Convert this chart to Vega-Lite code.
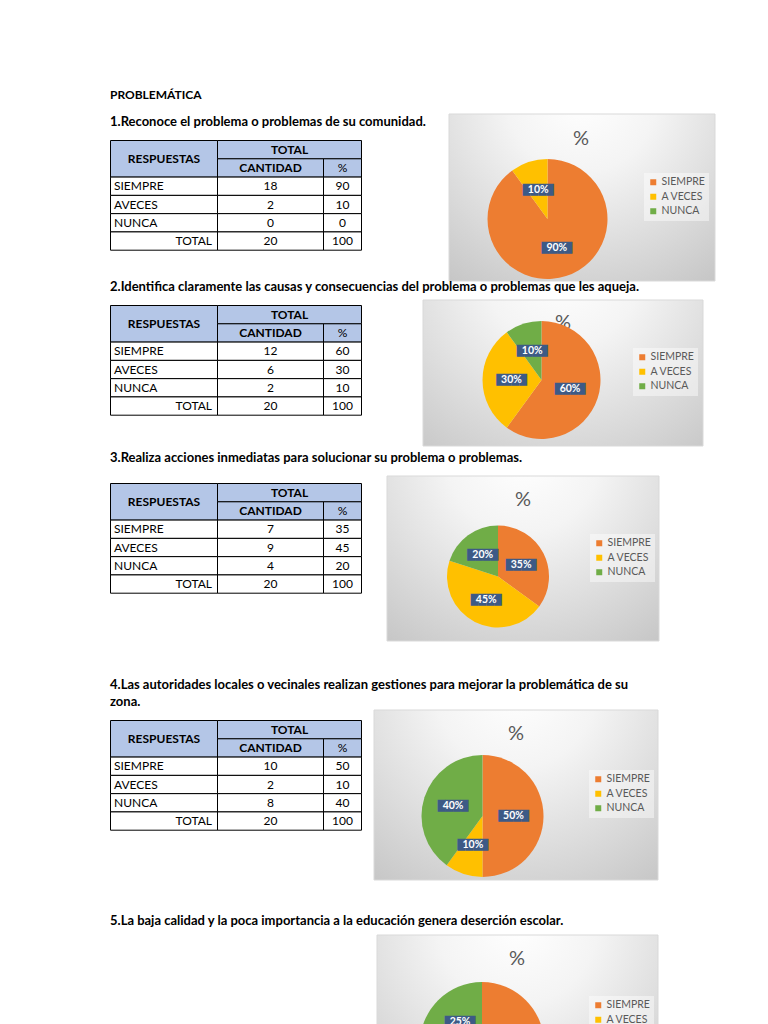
{
"$schema": "https://vega.github.io/schema/vega-lite/v6.json",
"width": 768, "height": 1024, "padding": 0, "autosize": "none", "background": "#ffffff",
"config": {
 "view": {"stroke": null},
 "axis": {"disable": true},
 "legend": {"orient": "none", "title": null, "symbolType": "square", "symbolSize": 36, "symbolStrokeWidth": 0, "labelFont": "Lato", "labelFontSize": 10.5, "labelColor": "#595959", "fillColor": "rgba(255,255,255,0.45)", "padding": 4, "rowPadding": 3.5, "labelOffset": 3},
 "style": {
  "q": {"font": "Lato", "fontSize": 13, "fontWeight": "bold", "align": "left", "baseline": "middle"},
  "hd": {"font": "Lato", "fontSize": 12, "fontWeight": "bold", "align": "center", "baseline": "middle"},
  "cell": {"font": "Lato", "fontSize": 12, "align": "center", "baseline": "middle"},
  "pct": {"font": "Lato", "fontSize": 20, "align": "center", "baseline": "middle"},
  "lblbg": {"font": "DejaVu Sans", "fontSize": 10, "align": "center", "baseline": "middle"},
  "lbl": {"font": "Lato", "fontSize": 10.5, "fontWeight": "bold", "align": "center", "baseline": "middle"}
 }
},
"datasets": {
 "q1": [{"resp": "SIEMPRE", "cantidad": 18, "pct": 90}, {"resp": "AVECES", "cantidad": 2, "pct": 10}, {"resp": "NUNCA", "cantidad": 0, "pct": 0}, {"resp": "TOTAL", "cantidad": 20, "pct": 100}],
 "q2": [{"resp": "SIEMPRE", "cantidad": 12, "pct": 60}, {"resp": "AVECES", "cantidad": 6, "pct": 30}, {"resp": "NUNCA", "cantidad": 2, "pct": 10}, {"resp": "TOTAL", "cantidad": 20, "pct": 100}],
 "q3": [{"resp": "SIEMPRE", "cantidad": 7, "pct": 35}, {"resp": "AVECES", "cantidad": 9, "pct": 45}, {"resp": "NUNCA", "cantidad": 4, "pct": 20}, {"resp": "TOTAL", "cantidad": 20, "pct": 100}],
 "q4": [{"resp": "SIEMPRE", "cantidad": 10, "pct": 50}, {"resp": "AVECES", "cantidad": 2, "pct": 10}, {"resp": "NUNCA", "cantidad": 8, "pct": 40}, {"resp": "TOTAL", "cantidad": 20, "pct": 100}],
 "q5": [{"resp": "SIEMPRE", "cantidad": 10, "pct": 50}, {"resp": "AVECES", "cantidad": 5, "pct": 25}, {"resp": "NUNCA", "cantidad": 5, "pct": 25}, {"resp": "TOTAL", "cantidad": 20, "pct": 100}]
},
"layer": [
 {
  "data": {"values": [{}]},
  "resolve": {"scale": {"color": "independent"}, "legend": {"color": "independent"}},
  "layer": [
   {"mark": {"type": "rect", "stroke": "#D9D9D9", "strokeWidth": 1, "fill": {"gradient": "radial", "x1": 0.5, "y1": 0.12, "r1": 0, "x2": 0.5, "y2": 0.12, "r2": 0.95, "stops": [{"offset": 0, "color": "#FFFFFF"}, {"offset": 0.3, "color": "#F4F4F4"}, {"offset": 1, "color": "#BEBEBE"}]}},
    "encoding": {"x": {"datum": 449, "scale": {"domain": [0, 768], "nice": false, "zero": false}}, "x2": {"datum": 715}, "y": {"datum": 114, "scale": {"domain": [0, 1024], "nice": false, "zero": false, "reverse": true}}, "y2": {"datum": 281}}},
   {"mark": {"type": "rect", "stroke": "#D9D9D9", "strokeWidth": 1, "fill": {"gradient": "radial", "x1": 0.5, "y1": 0.12, "r1": 0, "x2": 0.5, "y2": 0.12, "r2": 0.95, "stops": [{"offset": 0, "color": "#FFFFFF"}, {"offset": 0.3, "color": "#F4F4F4"}, {"offset": 1, "color": "#BEBEBE"}]}},
    "encoding": {"x": {"datum": 423}, "x2": {"datum": 703}, "y": {"datum": 300}, "y2": {"datum": 446}}},
   {"mark": {"type": "rect", "stroke": "#D9D9D9", "strokeWidth": 1, "fill": {"gradient": "radial", "x1": 0.5, "y1": 0.12, "r1": 0, "x2": 0.5, "y2": 0.12, "r2": 0.95, "stops": [{"offset": 0, "color": "#FFFFFF"}, {"offset": 0.3, "color": "#F4F4F4"}, {"offset": 1, "color": "#BEBEBE"}]}},
    "encoding": {"x": {"datum": 387}, "x2": {"datum": 659}, "y": {"datum": 476}, "y2": {"datum": 641}}},
   {"mark": {"type": "rect", "stroke": "#D9D9D9", "strokeWidth": 1, "fill": {"gradient": "radial", "x1": 0.5, "y1": 0.12, "r1": 0, "x2": 0.5, "y2": 0.12, "r2": 0.95, "stops": [{"offset": 0, "color": "#FFFFFF"}, {"offset": 0.3, "color": "#F4F4F4"}, {"offset": 1, "color": "#BEBEBE"}]}},
    "encoding": {"x": {"datum": 374}, "x2": {"datum": 658}, "y": {"datum": 710}, "y2": {"datum": 880}}},
   {"mark": {"type": "rect", "stroke": "#D9D9D9", "strokeWidth": 1, "fill": {"gradient": "radial", "x1": 0.5, "y1": 0.15, "r1": 0, "x2": 0.5, "y2": 0.15, "r2": 0.95, "stops": [{"offset": 0, "color": "#FFFFFF"}, {"offset": 0.3, "color": "#F4F4F4"}, {"offset": 1, "color": "#BEBEBE"}]}},
    "encoding": {"x": {"datum": 377}, "x2": {"datum": 658}, "y": {"datum": 935}, "y2": {"datum": 1110}}},

   {"mark": {"type": "text", "style": "q", "fontSize": 12, "text": "PROBLEMÁTICA"}, "encoding": {"x": {"datum": 110}, "y": {"datum": 95}}},
   {"mark": {"type": "text", "style": "q", "text": "1.Reconoce el problema o problemas de su comunidad."}, "encoding": {"x": {"datum": 110}, "y": {"datum": 122}}},
   {"mark": {"type": "text", "style": "q", "text": "2.Identifica claramente las causas y consecuencias del problema o problemas que les aqueja."}, "encoding": {"x": {"datum": 110}, "y": {"datum": 287}}},
   {"mark": {"type": "text", "style": "q", "text": "3.Realiza acciones inmediatas para solucionar su problema o problemas."}, "encoding": {"x": {"datum": 110}, "y": {"datum": 458}}},
   {"mark": {"type": "text", "style": "q", "text": "4.Las autoridades locales o vecinales realizan gestiones para mejorar la problemática de su"}, "encoding": {"x": {"datum": 110}, "y": {"datum": 685}}},
   {"mark": {"type": "text", "style": "q", "text": "zona."}, "encoding": {"x": {"datum": 110}, "y": {"datum": 702}}},
   {"mark": {"type": "text", "style": "q", "text": "5.La baja calidad y la poca importancia a la educación genera deserción escolar."}, "encoding": {"x": {"datum": 110}, "y": {"datum": 921}}},

   {"mark": {"type": "rect", "fill": "#B4C6E7", "stroke": "#000000", "strokeWidth": 1}, "encoding": {"x": {"datum": 110.5}, "x2": {"datum": 217.5}, "y": {"datum": 140.5}, "y2": {"datum": 177.1}}},
   {"mark": {"type": "rect", "fill": "#B4C6E7", "stroke": "#000000", "strokeWidth": 1}, "encoding": {"x": {"datum": 217.5}, "x2": {"datum": 361.5}, "y": {"datum": 140.5}, "y2": {"datum": 158.8}}},
   {"mark": {"type": "rect", "fill": "#B4C6E7", "stroke": "#000000", "strokeWidth": 1}, "encoding": {"x": {"datum": 217.5}, "x2": {"datum": 323.5}, "y": {"datum": 158.8}, "y2": {"datum": 177.1}}},
   {"mark": {"type": "rect", "fill": "#B4C6E7", "stroke": "#000000", "strokeWidth": 1}, "encoding": {"x": {"datum": 323.5}, "x2": {"datum": 361.5}, "y": {"datum": 158.8}, "y2": {"datum": 177.1}}},
   {"mark": {"type": "text", "style": "hd", "text": "RESPUESTAS"}, "encoding": {"x": {"datum": 164}, "y": {"datum": 158.8}}},
   {"mark": {"type": "text", "style": "hd", "text": "TOTAL"}, "encoding": {"x": {"datum": 289.5}, "y": {"datum": 149.65}}},
   {"mark": {"type": "text", "style": "hd", "text": "CANTIDAD"}, "encoding": {"x": {"datum": 270.5}, "y": {"datum": 167.95}}},
   {"mark": {"type": "text", "style": "hd", "fontWeight": "normal", "text": "%"}, "encoding": {"x": {"datum": 342.5}, "y": {"datum": 167.95}}},

   {"mark": {"type": "rect", "fill": "#B4C6E7", "stroke": "#000000", "strokeWidth": 1}, "encoding": {"x": {"datum": 110.5}, "x2": {"datum": 217.5}, "y": {"datum": 305.5}, "y2": {"datum": 342.1}}},
   {"mark": {"type": "rect", "fill": "#B4C6E7", "stroke": "#000000", "strokeWidth": 1}, "encoding": {"x": {"datum": 217.5}, "x2": {"datum": 361.5}, "y": {"datum": 305.5}, "y2": {"datum": 323.8}}},
   {"mark": {"type": "rect", "fill": "#B4C6E7", "stroke": "#000000", "strokeWidth": 1}, "encoding": {"x": {"datum": 217.5}, "x2": {"datum": 323.5}, "y": {"datum": 323.8}, "y2": {"datum": 342.1}}},
   {"mark": {"type": "rect", "fill": "#B4C6E7", "stroke": "#000000", "strokeWidth": 1}, "encoding": {"x": {"datum": 323.5}, "x2": {"datum": 361.5}, "y": {"datum": 323.8}, "y2": {"datum": 342.1}}},
   {"mark": {"type": "text", "style": "hd", "text": "RESPUESTAS"}, "encoding": {"x": {"datum": 164}, "y": {"datum": 323.8}}},
   {"mark": {"type": "text", "style": "hd", "text": "TOTAL"}, "encoding": {"x": {"datum": 289.5}, "y": {"datum": 314.65}}},
   {"mark": {"type": "text", "style": "hd", "text": "CANTIDAD"}, "encoding": {"x": {"datum": 270.5}, "y": {"datum": 332.95}}},
   {"mark": {"type": "text", "style": "hd", "fontWeight": "normal", "text": "%"}, "encoding": {"x": {"datum": 342.5}, "y": {"datum": 332.95}}},

   {"mark": {"type": "rect", "fill": "#B4C6E7", "stroke": "#000000", "strokeWidth": 1}, "encoding": {"x": {"datum": 110.5}, "x2": {"datum": 217.5}, "y": {"datum": 483.5}, "y2": {"datum": 520.1}}},
   {"mark": {"type": "rect", "fill": "#B4C6E7", "stroke": "#000000", "strokeWidth": 1}, "encoding": {"x": {"datum": 217.5}, "x2": {"datum": 361.5}, "y": {"datum": 483.5}, "y2": {"datum": 501.8}}},
   {"mark": {"type": "rect", "fill": "#B4C6E7", "stroke": "#000000", "strokeWidth": 1}, "encoding": {"x": {"datum": 217.5}, "x2": {"datum": 323.5}, "y": {"datum": 501.8}, "y2": {"datum": 520.1}}},
   {"mark": {"type": "rect", "fill": "#B4C6E7", "stroke": "#000000", "strokeWidth": 1}, "encoding": {"x": {"datum": 323.5}, "x2": {"datum": 361.5}, "y": {"datum": 501.8}, "y2": {"datum": 520.1}}},
   {"mark": {"type": "text", "style": "hd", "text": "RESPUESTAS"}, "encoding": {"x": {"datum": 164}, "y": {"datum": 501.8}}},
   {"mark": {"type": "text", "style": "hd", "text": "TOTAL"}, "encoding": {"x": {"datum": 289.5}, "y": {"datum": 492.65}}},
   {"mark": {"type": "text", "style": "hd", "text": "CANTIDAD"}, "encoding": {"x": {"datum": 270.5}, "y": {"datum": 510.95}}},
   {"mark": {"type": "text", "style": "hd", "fontWeight": "normal", "text": "%"}, "encoding": {"x": {"datum": 342.5}, "y": {"datum": 510.95}}},

   {"mark": {"type": "rect", "fill": "#B4C6E7", "stroke": "#000000", "strokeWidth": 1}, "encoding": {"x": {"datum": 110.5}, "x2": {"datum": 217.5}, "y": {"datum": 720.5}, "y2": {"datum": 757.1}}},
   {"mark": {"type": "rect", "fill": "#B4C6E7", "stroke": "#000000", "strokeWidth": 1}, "encoding": {"x": {"datum": 217.5}, "x2": {"datum": 361.5}, "y": {"datum": 720.5}, "y2": {"datum": 738.8}}},
   {"mark": {"type": "rect", "fill": "#B4C6E7", "stroke": "#000000", "strokeWidth": 1}, "encoding": {"x": {"datum": 217.5}, "x2": {"datum": 323.5}, "y": {"datum": 738.8}, "y2": {"datum": 757.1}}},
   {"mark": {"type": "rect", "fill": "#B4C6E7", "stroke": "#000000", "strokeWidth": 1}, "encoding": {"x": {"datum": 323.5}, "x2": {"datum": 361.5}, "y": {"datum": 738.8}, "y2": {"datum": 757.1}}},
   {"mark": {"type": "text", "style": "hd", "text": "RESPUESTAS"}, "encoding": {"x": {"datum": 164}, "y": {"datum": 738.8}}},
   {"mark": {"type": "text", "style": "hd", "text": "TOTAL"}, "encoding": {"x": {"datum": 289.5}, "y": {"datum": 729.65}}},
   {"mark": {"type": "text", "style": "hd", "text": "CANTIDAD"}, "encoding": {"x": {"datum": 270.5}, "y": {"datum": 747.95}}},
   {"mark": {"type": "text", "style": "hd", "fontWeight": "normal", "text": "%"}, "encoding": {"x": {"datum": 342.5}, "y": {"datum": 747.95}}},

   {"mark": {"type": "text", "style": "pct", "color": "#595959", "text": "%"}, "encoding": {"x": {"datum": 581}, "y": {"datum": 139}}},
   {"mark": {"type": "text", "style": "pct", "color": "#595959", "text": "%"}, "encoding": {"x": {"datum": 563}, "y": {"datum": 323}}},
   {"mark": {"type": "text", "style": "pct", "color": "#595959", "text": "%"}, "encoding": {"x": {"datum": 523}, "y": {"datum": 500}}},
   {"mark": {"type": "text", "style": "pct", "color": "#595959", "text": "%"}, "encoding": {"x": {"datum": 516}, "y": {"datum": 734}}},
   {"mark": {"type": "text", "style": "pct", "color": "#595959", "text": "%"}, "encoding": {"x": {"datum": 517}, "y": {"datum": 959}}},

   {"data": {"name": "q1"}, "transform": [{"filter": "datum.resp != 'TOTAL'"}, {"window": [{"op": "row_number", "as": "orden"}]}],
    "mark": {"type": "arc", "outerRadius": 60},
    "encoding": {"x": {"datum": 547.5}, "y": {"datum": 219}, "theta": {"field": "pct", "type": "quantitative", "stack": true}, "order": {"field": "orden", "type": "quantitative"},
     "color": {"field": "resp", "type": "nominal", "scale": {"domain": ["SIEMPRE", "AVECES", "NUNCA"], "range": ["#ED7D31", "#FFC000", "#70AD47"]}, "legend": {"orient": "none", "legendX": 644, "legendY": 173, "labelExpr": "datum.label == 'AVECES' ? 'A VECES' : datum.label"}}}},
   {"data": {"name": "q2"}, "transform": [{"filter": "datum.resp != 'TOTAL'"}, {"window": [{"op": "row_number", "as": "orden"}]}],
    "mark": {"type": "arc", "outerRadius": 59},
    "encoding": {"x": {"datum": 541.5}, "y": {"datum": 380}, "theta": {"field": "pct", "type": "quantitative", "stack": true}, "order": {"field": "orden", "type": "quantitative"},
     "color": {"field": "resp", "type": "nominal", "scale": {"domain": ["SIEMPRE", "AVECES", "NUNCA"], "range": ["#ED7D31", "#FFC000", "#70AD47"]}, "legend": {"orient": "none", "legendX": 633, "legendY": 348, "labelExpr": "datum.label == 'AVECES' ? 'A VECES' : datum.label"}}}},
   {"data": {"name": "q3"}, "transform": [{"filter": "datum.resp != 'TOTAL'"}, {"window": [{"op": "row_number", "as": "orden"}]}],
    "mark": {"type": "arc", "outerRadius": 51},
    "encoding": {"x": {"datum": 498}, "y": {"datum": 576.5}, "theta": {"field": "pct", "type": "quantitative", "stack": true}, "order": {"field": "orden", "type": "quantitative"},
     "color": {"field": "resp", "type": "nominal", "scale": {"domain": ["SIEMPRE", "AVECES", "NUNCA"], "range": ["#ED7D31", "#FFC000", "#70AD47"]}, "legend": {"orient": "none", "legendX": 590, "legendY": 534, "labelExpr": "datum.label == 'AVECES' ? 'A VECES' : datum.label"}}}},
   {"data": {"name": "q4"}, "transform": [{"filter": "datum.resp != 'TOTAL'"}, {"window": [{"op": "row_number", "as": "orden"}]}],
    "mark": {"type": "arc", "outerRadius": 61},
    "encoding": {"x": {"datum": 482.5}, "y": {"datum": 816}, "theta": {"field": "pct", "type": "quantitative", "stack": true}, "order": {"field": "orden", "type": "quantitative"},
     "color": {"field": "resp", "type": "nominal", "scale": {"domain": ["SIEMPRE", "AVECES", "NUNCA"], "range": ["#ED7D31", "#FFC000", "#70AD47"]}, "legend": {"orient": "none", "legendX": 589, "legendY": 770, "labelExpr": "datum.label == 'AVECES' ? 'A VECES' : datum.label"}}}},
   {"data": {"name": "q5"}, "transform": [{"filter": "datum.resp != 'TOTAL'"}, {"window": [{"op": "row_number", "as": "orden"}]}],
    "mark": {"type": "arc", "outerRadius": 62},
    "encoding": {"x": {"datum": 482}, "y": {"datum": 1044}, "theta": {"field": "pct", "type": "quantitative", "stack": true}, "order": {"field": "orden", "type": "quantitative"},
     "color": {"field": "resp", "type": "nominal", "scale": {"domain": ["SIEMPRE", "AVECES", "NUNCA"], "range": ["#ED7D31", "#FFC000", "#70AD47"]}, "legend": {"orient": "none", "legendX": 589, "legendY": 996, "labelExpr": "datum.label == 'AVECES' ? 'A VECES' : datum.label"}}}},

   {"data": {"name": "q1"}, "transform": [{"filter": "datum.resp != 'TOTAL'"}, {"window": [{"op": "row_number", "as": "orden"}]}, {"filter": "datum.pct > 0"}],
    "mark": {"type": "text", "style": "lblbg", "color": "#3D5A86", "radius": 30, "text": "████"},
    "encoding": {"x": {"datum": 547.5}, "y": {"datum": 219}, "theta": {"field": "pct", "type": "quantitative", "stack": true}, "order": {"field": "orden", "type": "quantitative"}}},
   {"data": {"name": "q1"}, "transform": [{"filter": "datum.resp != 'TOTAL'"}, {"window": [{"op": "row_number", "as": "orden"}]}, {"filter": "datum.pct > 0"}],
    "mark": {"type": "text", "style": "lbl", "color": "#FFFFFF", "radius": 30, "text": {"expr": "datum.pct + '%'"}},
    "encoding": {"x": {"datum": 547.5}, "y": {"datum": 219}, "theta": {"field": "pct", "type": "quantitative", "stack": true}, "order": {"field": "orden", "type": "quantitative"}}},
   {"data": {"name": "q2"}, "transform": [{"filter": "datum.resp != 'TOTAL'"}, {"window": [{"op": "row_number", "as": "orden"}]}, {"filter": "datum.pct > 0"}],
    "mark": {"type": "text", "style": "lblbg", "color": "#3D5A86", "radius": 30, "text": "████"},
    "encoding": {"x": {"datum": 541.5}, "y": {"datum": 380}, "theta": {"field": "pct", "type": "quantitative", "stack": true}, "order": {"field": "orden", "type": "quantitative"}}},
   {"data": {"name": "q2"}, "transform": [{"filter": "datum.resp != 'TOTAL'"}, {"window": [{"op": "row_number", "as": "orden"}]}, {"filter": "datum.pct > 0"}],
    "mark": {"type": "text", "style": "lbl", "color": "#FFFFFF", "radius": 30, "text": {"expr": "datum.pct + '%'"}},
    "encoding": {"x": {"datum": 541.5}, "y": {"datum": 380}, "theta": {"field": "pct", "type": "quantitative", "stack": true}, "order": {"field": "orden", "type": "quantitative"}}},
   {"data": {"name": "q3"}, "transform": [{"filter": "datum.resp != 'TOTAL'"}, {"window": [{"op": "row_number", "as": "orden"}]}, {"filter": "datum.pct > 0"}],
    "mark": {"type": "text", "style": "lblbg", "color": "#3D5A86", "radius": 26, "text": "████"},
    "encoding": {"x": {"datum": 498}, "y": {"datum": 576.5}, "theta": {"field": "pct", "type": "quantitative", "stack": true}, "order": {"field": "orden", "type": "quantitative"}}},
   {"data": {"name": "q3"}, "transform": [{"filter": "datum.resp != 'TOTAL'"}, {"window": [{"op": "row_number", "as": "orden"}]}, {"filter": "datum.pct > 0"}],
    "mark": {"type": "text", "style": "lbl", "color": "#FFFFFF", "radius": 26, "text": {"expr": "datum.pct + '%'"}},
    "encoding": {"x": {"datum": 498}, "y": {"datum": 576.5}, "theta": {"field": "pct", "type": "quantitative", "stack": true}, "order": {"field": "orden", "type": "quantitative"}}},
   {"data": {"name": "q4"}, "transform": [{"filter": "datum.resp != 'TOTAL'"}, {"window": [{"op": "row_number", "as": "orden"}]}, {"filter": "datum.pct > 0"}],
    "mark": {"type": "text", "style": "lblbg", "color": "#3D5A86", "radius": 31, "text": "████"},
    "encoding": {"x": {"datum": 482.5}, "y": {"datum": 816}, "theta": {"field": "pct", "type": "quantitative", "stack": true}, "order": {"field": "orden", "type": "quantitative"}}},
   {"data": {"name": "q4"}, "transform": [{"filter": "datum.resp != 'TOTAL'"}, {"window": [{"op": "row_number", "as": "orden"}]}, {"filter": "datum.pct > 0"}],
    "mark": {"type": "text", "style": "lbl", "color": "#FFFFFF", "radius": 31, "text": {"expr": "datum.pct + '%'"}},
    "encoding": {"x": {"datum": 482.5}, "y": {"datum": 816}, "theta": {"field": "pct", "type": "quantitative", "stack": true}, "order": {"field": "orden", "type": "quantitative"}}},
   {"data": {"name": "q5"}, "transform": [{"filter": "datum.resp != 'TOTAL'"}, {"window": [{"op": "row_number", "as": "orden"}]}, {"filter": "datum.pct > 0"}],
    "mark": {"type": "text", "style": "lblbg", "color": "#3D5A86", "radius": 31, "text": "████"},
    "encoding": {"x": {"datum": 482}, "y": {"datum": 1044}, "theta": {"field": "pct", "type": "quantitative", "stack": true}, "order": {"field": "orden", "type": "quantitative"}}},
   {"data": {"name": "q5"}, "transform": [{"filter": "datum.resp != 'TOTAL'"}, {"window": [{"op": "row_number", "as": "orden"}]}, {"filter": "datum.pct > 0"}],
    "mark": {"type": "text", "style": "lbl", "color": "#FFFFFF", "radius": 31, "text": {"expr": "datum.pct + '%'"}},
    "encoding": {"x": {"datum": 482}, "y": {"datum": 1044}, "theta": {"field": "pct", "type": "quantitative", "stack": true}, "order": {"field": "orden", "type": "quantitative"}}}
  ]
 },

 {"data": {"name": "q1"}, "layer": [
  {"mark": {"type": "rect", "fill": "#ffffff", "stroke": "#000000", "strokeWidth": 1}, "encoding": {"x": {"datum": 110.5}, "x2": {"datum": 217.5}, "y": {"field": "resp", "type": "nominal", "scale": {"type": "band", "domain": ["SIEMPRE", "AVECES", "NUNCA", "TOTAL"], "range": [177.1, 250.2], "paddingInner": 0, "paddingOuter": 0}}}},
  {"mark": {"type": "rect", "fill": "#ffffff", "stroke": "#000000", "strokeWidth": 1}, "encoding": {"x": {"datum": 217.5}, "x2": {"datum": 323.5}, "y": {"field": "resp", "type": "nominal"}}},
  {"mark": {"type": "rect", "fill": "#ffffff", "stroke": "#000000", "strokeWidth": 1}, "encoding": {"x": {"datum": 323.5}, "x2": {"datum": 361.5}, "y": {"field": "resp", "type": "nominal"}}},
  {"transform": [{"filter": "datum.resp != 'TOTAL'"}], "mark": {"type": "text", "style": "cell", "align": "left"}, "encoding": {"x": {"datum": 114}, "y": {"field": "resp", "type": "nominal"}, "text": {"field": "resp", "type": "nominal"}}},
  {"transform": [{"filter": "datum.resp == 'TOTAL'"}], "mark": {"type": "text", "style": "cell", "align": "right"}, "encoding": {"x": {"datum": 212}, "y": {"field": "resp", "type": "nominal"}, "text": {"field": "resp", "type": "nominal"}}},
  {"mark": {"type": "text", "style": "cell"}, "encoding": {"x": {"datum": 270.5}, "y": {"field": "resp", "type": "nominal"}, "text": {"field": "cantidad", "type": "nominal"}}},
  {"mark": {"type": "text", "style": "cell"}, "encoding": {"x": {"datum": 342.5}, "y": {"field": "resp", "type": "nominal"}, "text": {"field": "pct", "type": "nominal"}}}
 ]},
 {"data": {"name": "q2"}, "layer": [
  {"mark": {"type": "rect", "fill": "#ffffff", "stroke": "#000000", "strokeWidth": 1}, "encoding": {"x": {"datum": 110.5}, "x2": {"datum": 217.5}, "y": {"field": "resp", "type": "nominal", "scale": {"type": "band", "domain": ["SIEMPRE", "AVECES", "NUNCA", "TOTAL"], "range": [342.1, 415.2], "paddingInner": 0, "paddingOuter": 0}}}},
  {"mark": {"type": "rect", "fill": "#ffffff", "stroke": "#000000", "strokeWidth": 1}, "encoding": {"x": {"datum": 217.5}, "x2": {"datum": 323.5}, "y": {"field": "resp", "type": "nominal"}}},
  {"mark": {"type": "rect", "fill": "#ffffff", "stroke": "#000000", "strokeWidth": 1}, "encoding": {"x": {"datum": 323.5}, "x2": {"datum": 361.5}, "y": {"field": "resp", "type": "nominal"}}},
  {"transform": [{"filter": "datum.resp != 'TOTAL'"}], "mark": {"type": "text", "style": "cell", "align": "left"}, "encoding": {"x": {"datum": 114}, "y": {"field": "resp", "type": "nominal"}, "text": {"field": "resp", "type": "nominal"}}},
  {"transform": [{"filter": "datum.resp == 'TOTAL'"}], "mark": {"type": "text", "style": "cell", "align": "right"}, "encoding": {"x": {"datum": 212}, "y": {"field": "resp", "type": "nominal"}, "text": {"field": "resp", "type": "nominal"}}},
  {"mark": {"type": "text", "style": "cell"}, "encoding": {"x": {"datum": 270.5}, "y": {"field": "resp", "type": "nominal"}, "text": {"field": "cantidad", "type": "nominal"}}},
  {"mark": {"type": "text", "style": "cell"}, "encoding": {"x": {"datum": 342.5}, "y": {"field": "resp", "type": "nominal"}, "text": {"field": "pct", "type": "nominal"}}}
 ]},
 {"data": {"name": "q3"}, "layer": [
  {"mark": {"type": "rect", "fill": "#ffffff", "stroke": "#000000", "strokeWidth": 1}, "encoding": {"x": {"datum": 110.5}, "x2": {"datum": 217.5}, "y": {"field": "resp", "type": "nominal", "scale": {"type": "band", "domain": ["SIEMPRE", "AVECES", "NUNCA", "TOTAL"], "range": [520.1, 593.2], "paddingInner": 0, "paddingOuter": 0}}}},
  {"mark": {"type": "rect", "fill": "#ffffff", "stroke": "#000000", "strokeWidth": 1}, "encoding": {"x": {"datum": 217.5}, "x2": {"datum": 323.5}, "y": {"field": "resp", "type": "nominal"}}},
  {"mark": {"type": "rect", "fill": "#ffffff", "stroke": "#000000", "strokeWidth": 1}, "encoding": {"x": {"datum": 323.5}, "x2": {"datum": 361.5}, "y": {"field": "resp", "type": "nominal"}}},
  {"transform": [{"filter": "datum.resp != 'TOTAL'"}], "mark": {"type": "text", "style": "cell", "align": "left"}, "encoding": {"x": {"datum": 114}, "y": {"field": "resp", "type": "nominal"}, "text": {"field": "resp", "type": "nominal"}}},
  {"transform": [{"filter": "datum.resp == 'TOTAL'"}], "mark": {"type": "text", "style": "cell", "align": "right"}, "encoding": {"x": {"datum": 212}, "y": {"field": "resp", "type": "nominal"}, "text": {"field": "resp", "type": "nominal"}}},
  {"mark": {"type": "text", "style": "cell"}, "encoding": {"x": {"datum": 270.5}, "y": {"field": "resp", "type": "nominal"}, "text": {"field": "cantidad", "type": "nominal"}}},
  {"mark": {"type": "text", "style": "cell"}, "encoding": {"x": {"datum": 342.5}, "y": {"field": "resp", "type": "nominal"}, "text": {"field": "pct", "type": "nominal"}}}
 ]},
 {"data": {"name": "q4"}, "layer": [
  {"mark": {"type": "rect", "fill": "#ffffff", "stroke": "#000000", "strokeWidth": 1}, "encoding": {"x": {"datum": 110.5}, "x2": {"datum": 217.5}, "y": {"field": "resp", "type": "nominal", "scale": {"type": "band", "domain": ["SIEMPRE", "AVECES", "NUNCA", "TOTAL"], "range": [757.1, 830.2], "paddingInner": 0, "paddingOuter": 0}}}},
  {"mark": {"type": "rect", "fill": "#ffffff", "stroke": "#000000", "strokeWidth": 1}, "encoding": {"x": {"datum": 217.5}, "x2": {"datum": 323.5}, "y": {"field": "resp", "type": "nominal"}}},
  {"mark": {"type": "rect", "fill": "#ffffff", "stroke": "#000000", "strokeWidth": 1}, "encoding": {"x": {"datum": 323.5}, "x2": {"datum": 361.5}, "y": {"field": "resp", "type": "nominal"}}},
  {"transform": [{"filter": "datum.resp != 'TOTAL'"}], "mark": {"type": "text", "style": "cell", "align": "left"}, "encoding": {"x": {"datum": 114}, "y": {"field": "resp", "type": "nominal"}, "text": {"field": "resp", "type": "nominal"}}},
  {"transform": [{"filter": "datum.resp == 'TOTAL'"}], "mark": {"type": "text", "style": "cell", "align": "right"}, "encoding": {"x": {"datum": 212}, "y": {"field": "resp", "type": "nominal"}, "text": {"field": "resp", "type": "nominal"}}},
  {"mark": {"type": "text", "style": "cell"}, "encoding": {"x": {"datum": 270.5}, "y": {"field": "resp", "type": "nominal"}, "text": {"field": "cantidad", "type": "nominal"}}},
  {"mark": {"type": "text", "style": "cell"}, "encoding": {"x": {"datum": 342.5}, "y": {"field": "resp", "type": "nominal"}, "text": {"field": "pct", "type": "nominal"}}}
 ]}
],
"resolve": {"scale": {"y": "independent"}}
}
